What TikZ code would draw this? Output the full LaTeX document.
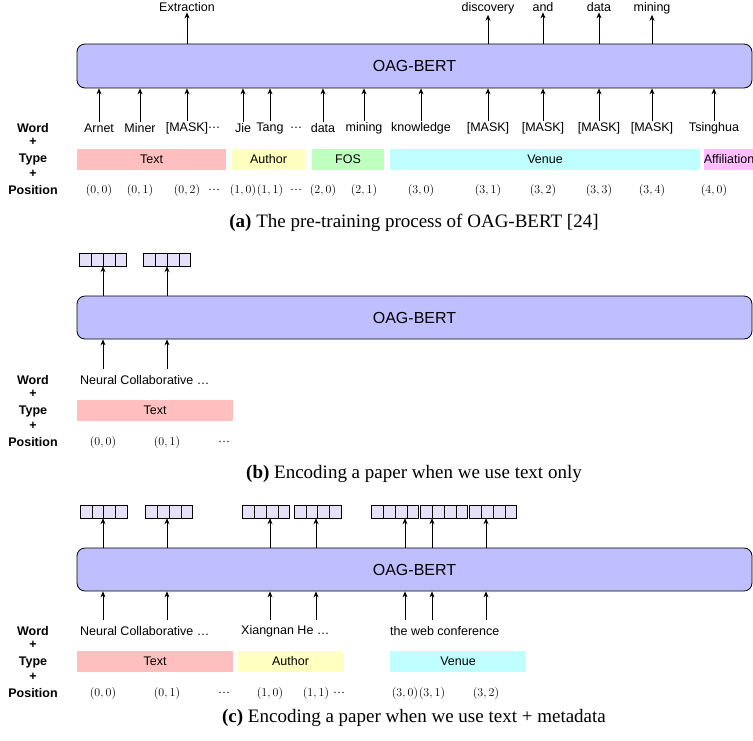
\documentclass[tikz,border=0pt]{standalone}
\usepackage{fontspec}
\setmainfont{Liberation Serif}
\setsansfont{Liberation Sans}
\usepackage{xcolor}
\usetikzlibrary{positioning, arrows.meta, shapes}

\definecolor{bertfill}{HTML}{BFBFFF}
\definecolor{textfill}{HTML}{FFBFBF}
\definecolor{authfill}{HTML}{FFFFBF}
\definecolor{fosfill}{HTML}{BFFFBF}
\definecolor{venuefill}{HTML}{BFFFFF}
\definecolor{afffill}{HTML}{FFBFFF}
\definecolor{embfill}{HTML}{E6E0F8}

\begin{document}
\begin{tikzpicture}[
    x=1pt, y=-1pt,
    % Define specific styles to match the drawing
    bert/.style={
        draw=black,
        thick,
        fill=bertfill,
        rounded corners=8pt,
        font=\sffamily\fontsize{16}{18}\selectfont
    },
    word/.style={
        font=\sffamily\fontsize{12.5}{14}\selectfont,
        inner sep=1pt
    },
    rowlabel/.style={
        font=\sffamily\bfseries\fontsize{12.5}{13}\selectfont,
        inner sep=0pt
    },
    posnum/.style={
        font=\fontsize{12}{14}\selectfont,
        inner sep=1pt
    },
    typebar/.style={
        font=\sffamily\fontsize{12.5}{14}\selectfont,
        inner sep=0pt
    },
    caption/.style={
        font=\fontsize{19}{22}\selectfont
    },
    emb/.style={
        draw=black,
        fill=embfill,
        minimum width=11.7pt,
        minimum height=13pt,
        inner sep=0pt
    },
    feed/.style={
        -{Stealth[length=6pt,width=5pt]},
        thick
    }
]
    \useasboundingbox (0,0) rectangle (753,740);

    % --- Row labels ---
    \foreach \p/\y in {a/128, b/380, c/631} {
        \node[rowlabel] (word\p) at (33,\y) {Word};
        \node[rowlabel] at (33,\y+14) {+};
        \node[rowlabel] (type\p) at (33,\y+31) {Type};
        \node[rowlabel] at (33,\y+46) {+};
        \node[rowlabel] (pos\p) at (33,\y+62) {Position};
    }

    % --- (a) Pre-training ---
    \node[bert, minimum width=675pt, minimum height=44pt] (berta) at (414.5,66) {OAG-BERT};

    \foreach \n/\x/\w/\ps in {a1/99/Arnet/{(0,0)}, a2/140/Miner/{(0,1)}, a3/187/[MASK]/{(0,2)},
                           a4/243/Jie/{(1,0)}, a5/270/Tang/{(1,1)}, a6/323/data/{(2,0)},
                           a7/364/mining/{(2,1)}, a8/421/knowledge/{(3,0)}, a9/488/[MASK]/{(3,1)},
                           a10/543/[MASK]/{(3,2)}, a11/599/[MASK]/{(3,3)}, a12/652/[MASK]/{(3,4)},
                           a13/714/Tsinghua/{(4,0)}} {
        \node[word] (w\n) at (\x,128) {\w};
        \node[posnum] (p\n) at (\x,190) {$\ps$};
        \draw[feed] (w\n.north) -- (w\n.north |- berta.south);
    }
    \node[word] at (214,128) {\dots};
    \node[word] at (296,128) {\dots};
    \node[posnum] at (214,190) {\dots};
    \node[posnum] at (296,190) {\dots};

    \foreach \n/\x/\w in {o1/187/Extraction, o2/488/discovery, o3/543/and, o4/599/data, o5/652/mining} {
        \node[word, anchor=base] (\n) at (\x,11) {\w};
        \draw[feed] (berta.north -| \n) -- (\n.south);
    }

    \foreach \n/\l/\r/\c/\t in {ta1/77/226/textfill/Text, ta2/232/305/authfill/Author,
                               ta3/312/384/fosfill/FOS, ta4/390/700/venuefill/Venue,
                               ta5/706/752/afffill/Affiliation} {
        \node[typebar, fill=\c, minimum width=\r-\l, minimum height=21pt] (\n) at ({(\l+\r)/2},159.5) {\t};
    }
    \node[caption] (capa) at (414,223) {\textbf{(a)} The pre-training process of OAG-BERT [24]};

    % --- (b) Text only ---
    \node[bert, minimum width=675pt, minimum height=43pt] (bertb) at (414.5,317.5) {OAG-BERT};
    \node[word, anchor=west] (wb) at (79,380) {Neural Collaborative \dots};
    \foreach \n/\x/\ps in {b1/103/{(0,0)}, b2/167/{(0,1)}} {
        \coordinate (in\n) at (\x,369);
        \node[posnum] (p\n) at (\x,442) {$\ps$};
        \draw[feed] (in\n) -- (in\n |- bertb.south);
        \foreach \k in {0,...,3}
            \node[emb] (e\n\k) at (\x-17.5+\k*11.7,259.5) {};
        \draw[feed] (bertb.north -| in\n) -- (in\n |- e\n0.south);
    }
    \node[posnum] at (224,442) {\dots};
    \node[typebar, fill=textfill, minimum width=156pt, minimum height=21pt] (tb1) at (155,410.5) {Text};
    \node[caption] (capb) at (414,474) {\textbf{(b)} Encoding a paper when we use text only};

    % --- (c) Text + metadata ---
    \node[bert, minimum width=675pt, minimum height=43pt] (bertc) at (414.5,569.5) {OAG-BERT};
    \node[word, anchor=west] (wc1) at (79,631) {Neural Collaborative \dots};
    \node[word, anchor=west] (wc2) at (240,631) {Xiangnan He \dots};
    \node[word, anchor=west] (wc3) at (389,631) {the web conference};
    \foreach \n/\x/\ps in {c1/103/{(0,0)}, c2/167/{(0,1)}, c3/270/{(1,0)}, c4/316/{(1,1)},
                           c5/405/{(3,0)}, c6/432/{(3,1)}, c7/486/{(3,2)}} {
        \coordinate (in\n) at (\x,620);
        \node[posnum] (p\n) at (\x,693) {$\ps$};
        \draw[feed] (in\n) -- (in\n |- bertc.south);
    }
    \foreach \n/\x in {c1/103.5, c2/169, c3/266, c4/317.5, c5/395, c6/444, c7/493} {
        \foreach \k in {0,...,3}
            \node[emb] (e\n\k) at (\x-17.5+\k*11.7,511.5) {};
    }
    \foreach \n in {c1,c2,c3,c4,c5,c6,c7}
        \draw[feed] (bertc.north -| in\n) -- (in\n |- e\n0.south);
    \node[posnum] at (224,693) {\dots};
    \node[posnum] at (339,693) {\dots};
    \node[typebar, fill=textfill, minimum width=156pt, minimum height=21pt] (tc1) at (155,661.5) {Text};
    \node[typebar, fill=authfill, minimum width=105pt, minimum height=21pt] (tc2) at (290.5,661.5) {Author};
    \node[typebar, fill=venuefill, minimum width=136pt, minimum height=21pt] (tc3) at (458,661.5) {Venue};
    \node[caption] (capc) at (414,718) {\textbf{(c)} Encoding a paper when we use text + metadata};
\end{tikzpicture}
\end{document}
